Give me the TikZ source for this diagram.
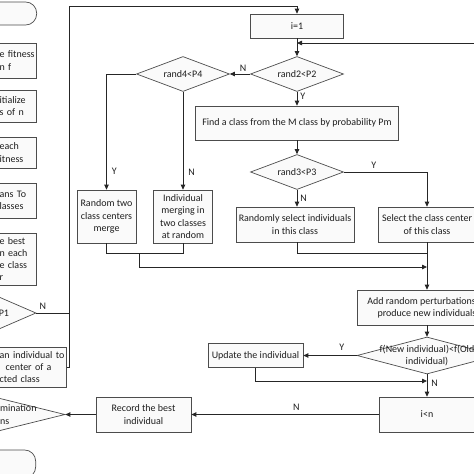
\documentclass[tikz,border=0pt]{standalone}
\usepackage{fontspec}
\setmainfont{Carlito}
\usetikzlibrary{positioning,arrows.meta,shapes.geometric}

\tikzset{
  box/.style={draw=black!70, fill=black!2, line width=0.7pt, align=center, inner sep=1pt},
  cutbox/.style={box, anchor=east, text width=36pt, align=left},
  decision/.style={diamond, draw=black!70, fill=black!2, line width=0.7pt, inner sep=0pt, shape aspect=2.6},
  terminal/.style={draw=black!70, fill=black!2, line width=0.7pt, rounded corners=11pt},
  link/.style={draw=black!85, line width=0.8pt},
  flow/.style={link, -{Triangle[length=5pt,width=4.5pt]}},
  yn/.style={inner sep=1pt}
}

\begin{document}
\begin{tikzpicture}[x=1pt, y=-1pt, every node/.style={font=\fontsize{10}{12.3}\selectfont, text=black!88}]
  \useasboundingbox (0,0) rectangle (474,474);
  \clip (0,0) rectangle (474,474);

  % left column (cut by the frame)
  \node[terminal, anchor=east, minimum width=80pt, minimum height=23pt] (start) at (37,13.5) {};
  \node[cutbox, minimum height=35pt] (fitf) at (37,60.5) {e fitness\\n f};
  \node[cutbox, minimum height=32pt] (init) at (37,106) {itialize\\s of n};
  \node[cutbox, minimum height=31pt] (eval) at (37,152.5) {each\\itness};
  \node[cutbox, minimum height=35pt] (kmeans) at (37,200.5) {ans To\\lasses};
  \node[cutbox, minimum height=52pt] (best) at (37,259) {e best\\n each\\e class\\r};
  \node[decision, minimum width=92pt, minimum height=40pt, text width=38pt, align=right] (p1) at (-10,313) {P1};
  \node[cutbox, text width=66pt, minimum height=40pt] (assign) at (67,367) {an individual to\\\hspace*{6pt}center of a\\cted class};
  \node[decision, minimum width=230pt, minimum height=57pt] (stop) at (-50,414.5) {};
  \node[align=left, anchor=west, inner sep=0pt] (stoptext) at (0,414.5) {mination\\ns};
  \node[terminal, anchor=east, minimum width=80pt, minimum height=28pt] (end) at (36,464) {};

  % main loop
  \node[box, minimum width=93pt, minimum height=24pt] (i1) at (297,26) {i=1};
  \node[decision, minimum width=93pt, minimum height=35pt] (r2) at (297,74) {rand2<P2};
  \node[decision, minimum width=93pt, minimum height=35pt] (r4) at (183,74) {rand4<P4};
  \node[box, minimum width=203pt, minimum height=34pt] (find) at (297,123) {Find a class from the M class by probability Pm};
  \node[decision, minimum width=93pt, minimum height=35pt] (r3) at (297,172) {rand3<P3};
  \node[box, minimum width=118pt, minimum height=35pt] (rsel) at (295,224.5) {Randomly select individuals\\in this class};
  \node[box, minimum width=98pt, minimum height=35pt] (csel) at (427,224.5) {Select the class center\\of this class};
  \node[box, minimum width=59pt, minimum height=53pt] (rtwo) at (106.5,216.5) {Random two\\class centers\\merge};
  \node[box, minimum width=59pt, minimum height=53pt] (indiv) at (183,216.5) {Individual\\merging in\\two classes\\at random};
  \node[box, minimum width=140pt, minimum height=35pt] (add) at (427,307.5) {Add random perturbations to\\produce new individuals};
  \node[decision, minimum width=140pt, minimum height=37pt] (cmp) at (427,355.5) {};
  \node[align=center, inner sep=0pt] (cmptext) at (cmp.center) {f(New individual)<f(Old\\individual)};
  \node[box, minimum width=95pt, minimum height=24pt] (upd) at (255.5,355.5) {Update the individual};
  \node[box, minimum width=96pt, minimum height=35pt] (icn) at (427,414.5) {i<n};
  \node[box, minimum width=95pt, minimum height=35pt] (rec) at (143.5,414.5) {Record the best\\individual};

  \coordinate (topL) at (69,6);
  \coordinate (backR) at (480,43);
  \coordinate (jA) at (139,253);
  \coordinate (jB) at (427,267);
  \coordinate (jC) at (427,381);

  \draw[flow] (assign.east) -| (topL) -| (i1.north);
  \draw[link] (p1.east) -- node[yn, pos=0.2, above=2pt] {N} (p1.east -| topL);
  \draw[flow] (backR) -- (backR -| i1.south);
  \draw[flow] (i1) -- (r2);
  \draw[flow] (r2) -- node[yn, pos=0.35, above=1pt] {N} (r4);
  \draw[flow] (r2) -- node[yn, pos=0.3, right=2pt] {Y} (find);
  \draw[flow] (r4.west) -| node[yn, pos=0.92, right=4pt] {Y} (rtwo.north);
  \draw[flow] (r4.south) -- node[yn, pos=0.82, right=4pt] {N} (indiv.north);
  \draw[flow] (find) -- (r3);
  \draw[flow] (r3.south) -- node[yn, pos=0.5, right=2pt] {N} (r3.south |- rsel.north);
  \draw[flow] (r3.east) -| node[yn, pos=0.18, above=2pt] {Y} (csel.north);
  \draw[link] (rtwo.south) -- ++(0,10) -| (indiv.south);
  \draw[flow] (jA) |- (jB);
  \draw[link] (r3.south |- rsel.south) -- ++(0,11) -| (csel.south);
  \draw[flow] (csel) -- (add);
  \draw[flow] (add) -- (cmp);
  \draw[flow] (cmp.west) -- node[yn, pos=0.28, above=4pt] {Y} (upd.east);
  \draw[flow] (upd.south) |- (jC);
  \draw[flow] (cmp.south) -- node[yn, pos=0.4, right=3pt] {N} (icn.north);
  \draw[flow] (icn.west) -- node[yn, pos=0.44, above=3pt] {N} (rec.east);
  \draw[flow] (rec.west) -- (stop.east);
\end{tikzpicture}
\end{document}
